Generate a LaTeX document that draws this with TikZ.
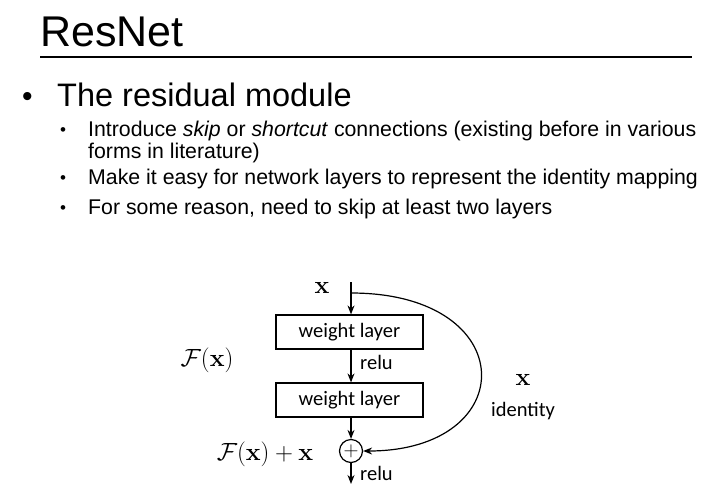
\documentclass[tikz,border=0pt]{standalone}
\usepackage[no-math]{fontspec}
\setmainfont{Liberation Sans}
\newfontfamily\calib{Carlito}
\usetikzlibrary{arrows.meta}
\begin{document}
\begin{tikzpicture}[x=1pt,y=-1pt,
  txt/.style={anchor=base west,inner sep=0},
  box/.style={draw,line width=1.2pt,minimum width=147pt,minimum height=34pt,inner sep=0,font=\calib\fontsize{20.5}{20.5}\selectfont},
  arr/.style={line width=1.2pt,-{Stealth[length=9pt,width=7pt]}},
  dl/.style={font=\calib\fontsize{20.5}{20.5}\selectfont,inner sep=0},
  ml/.style={font=\fontsize{24}{24}\selectfont,inner sep=0}]
\useasboundingbox (0,0) rectangle (711,498);
\fill[white] (0,0) rectangle (711,498);
\node[txt,font=\fontsize{43}{43}\selectfont] (title) at (40,46) {ResNet};
\coordinate (r1) at (40,57); \coordinate (r2) at (692,57);
\draw[line width=2.5pt] (r1) -- (r2);
\node[txt,font=\fontsize{30}{30}\selectfont] (b0) at (22,106) {•};
\node[txt,font=\fontsize{32.5}{32.5}\selectfont] (h1) at (57,106) {The residual module};
\begin{scope}[every node/.style={txt,font=\fontsize{21.3}{21.3}\selectfont}]
\node[font=\fontsize{17}{17}\selectfont] (s1) at (60,135) {•}; \node (t1) at (88,136) {Introduce \textit{skip} or \textit{shortcut} connections (existing before in various};
\node (t1b) at (88,158) {forms in literature)};
\node[font=\fontsize{17}{17}\selectfont] (s2) at (60,183) {•}; \node (t2) at (88,184) {Make it easy for network layers to represent the identity mapping};
\node[font=\fontsize{17}{17}\selectfont] (s3) at (60,213) {•}; \node (t3) at (88,214) {For some reason, need to skip at least two layers};
\end{scope}
% diagram
\coordinate (top) at (351,282);
\coordinate (split) at (351,293);
\node[box] (w1) at (349.5,332) {weight layer};
\node[box] (w2) at (349.5,400) {weight layer};
\node[draw,circle,line width=1.2pt,minimum size=23pt,inner sep=0] (plus) at (351,451) {};
\node[font=\fontsize{22}{22}\selectfont,inner sep=0] (pl) at (351,451) {$+$};
\coordinate (out) at (351,484);
\draw[arr] (top) -- (w1.north -| top);
\draw[arr] (w1.south -| top) -- (w2.north -| top);
\draw[arr] (w2.south -| top) -- (plus.north);
\draw[arr] (plus.south) -- (out);
\draw[arr] (split) .. controls (522,293) and (522,451) .. (plus.east);
\node[ml] (lx) at (322,288) {$\mathbf{x}$};
\node[dl,anchor=west] (relu1) at (360,362) {relu};
\node[dl,anchor=west] (relu2) at (360,473) {relu};
\node[ml] (fx) at (207,360) {$\mathcal{F}(\mathbf{x})$};
\node[ml] (fxx) at (265,454) {$\mathcal{F}(\mathbf{x})+\mathbf{x}$};
\node[ml] (rx) at (523,380) {$\mathbf{x}$};
\node[dl] (id) at (523,411) {identity};
\end{tikzpicture}
\end{document}
